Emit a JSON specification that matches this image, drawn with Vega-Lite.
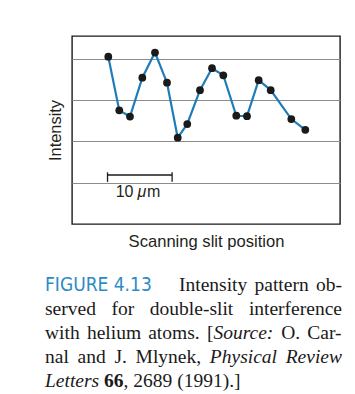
{
  "$schema": "https://vega.github.io/schema/vega-lite/v6.json",
  "width": 268,
  "height": 188,
  "autosize": {"type": "none"},
  "padding": {"left": 72, "top": 36, "right": 15, "bottom": 170},
  "background": "white",
  "config": {"view": {"stroke": "#1a1a1a", "strokeWidth": 1.4}},
  "datasets": {
    "intensity": [
      {"x": 5.62, "y": 4.05},
      {"x": 7.32, "y": 2.75},
      {"x": 8.98, "y": 2.6},
      {"x": 10.89, "y": 3.54},
      {"x": 12.85, "y": 4.15},
      {"x": 14.71, "y": 3.42},
      {"x": 16.37, "y": 2.09},
      {"x": 17.85, "y": 2.42},
      {"x": 19.82, "y": 3.24},
      {"x": 21.68, "y": 3.77},
      {"x": 23.43, "y": 3.6},
      {"x": 25.44, "y": 2.62},
      {"x": 27.1, "y": 2.61},
      {"x": 28.91, "y": 3.48},
      {"x": 30.77, "y": 3.24},
      {"x": 33.96, "y": 2.54},
      {"x": 36.13, "y": 2.28}
    ],
    "scalebar": [
      {"x": 5.5, "x2": 15.5, "y": 1.186, "y2": 1.186},
      {"x": 5.5, "x2": 5.5, "y": 1.02, "y2": 1.25},
      {"x": 15.5, "x2": 15.5, "y": 1.02, "y2": 1.25}
    ],
    "barlabel": [
      {"part": "number", "x": 6.77, "y": 0.665, "t": "10"},
      {"part": "greek", "x": 10.15, "y": 0.665, "t": "μ"},
      {"part": "number", "x": 11.63, "y": 0.665, "t": "m"}
    ],
    "caption": [
      {"part": "label", "x": -4.18, "y": -1.612, "t": "FIGURE 4.13"},
      {"part": "body", "x": 16.57, "y": -1.612, "t": "Intensity"},
      {"part": "body", "x": 28.26, "y": -1.612, "t": "pattern"},
      {"part": "body", "x": 37.78, "y": -1.612, "t": "ob-"},
      {"part": "body", "x": -4.18, "y": -2.195, "t": "served"},
      {"part": "body", "x": 6.12, "y": -2.195, "t": "for"},
      {"part": "body", "x": 12.05, "y": -2.195, "t": "double-slit"},
      {"part": "body", "x": 27.39, "y": -2.195, "t": "interference"},
      {"part": "body", "x": -4.18, "y": -2.778, "t": "with"},
      {"part": "body", "x": 2.31, "y": -2.778, "t": "helium"},
      {"part": "body", "x": 11.8, "y": -2.778, "t": "atoms."},
      {"part": "body", "x": 20.89, "y": -2.778, "t": "["},
      {"part": "emph", "x": 21.9, "y": -2.778, "t": "Source:"},
      {"part": "body", "x": 32.39, "y": -2.778, "t": "O."},
      {"part": "body", "x": 36.44, "y": -2.778, "t": "Car-"},
      {"part": "body", "x": -4.18, "y": -3.362, "t": "nal"},
      {"part": "body", "x": 0.85, "y": -3.362, "t": "and"},
      {"part": "body", "x": 6.57, "y": -3.362, "t": "J."},
      {"part": "body", "x": 9.85, "y": -3.362, "t": "Mlynek,"},
      {"part": "emph", "x": 21.34, "y": -3.362, "t": "Physical"},
      {"part": "emph", "x": 33.09, "y": -3.362, "t": "Review"},
      {"part": "emph", "x": -4.18, "y": -3.945, "t": "Letters"},
      {"part": "volume", "x": 4.97, "y": -3.945, "t": "66"},
      {"part": "body", "x": 7.99, "y": -3.945, "t": ", 2689 (1991).]"}
    ]
  },
  "encoding": {
    "x": {
      "field": "x",
      "type": "quantitative",
      "scale": {"domain": [0, 41.5], "nice": false, "zero": false},
      "axis": {
        "title": "Scanning slit position",
        "labels": false,
        "ticks": false,
        "domain": false,
        "grid": false,
        "titleFont": "Liberation Sans",
        "titleFontSize": 16.6,
        "titleFontWeight": "normal",
        "titleColor": "#231f20",
        "titlePadding": 9
      }
    },
    "y": {
      "field": "y",
      "type": "quantitative",
      "scale": {"domain": [0, 4.55], "nice": false, "zero": false},
      "axis": {
        "title": "Intensity",
        "labels": false,
        "ticks": false,
        "domain": false,
        "grid": true,
        "values": [1, 2, 3, 4],
        "gridColor": "#8c8c8c",
        "gridWidth": 1.2,
        "titleFont": "Liberation Sans",
        "titleFontSize": 16.4,
        "titleFontWeight": "normal",
        "titleColor": "#231f20",
        "titlePadding": 9
      }
    }
  },
  "layer": [
    {
      "data": {"name": "intensity"},
      "mark": {"type": "line", "color": "#1f7cb8", "strokeWidth": 2.2}
    },
    {
      "data": {"name": "intensity"},
      "mark": {"type": "circle", "color": "#1a1a1a", "opacity": 1, "size": 60}
    },
    {
      "data": {"name": "scalebar"},
      "mark": {"type": "rule", "color": "#1a1a1a", "strokeWidth": 1.3},
      "encoding": {
        "x2": {"field": "x2"},
        "y2": {"field": "y2"}
      }
    },
    {
      "data": {"name": "barlabel"},
      "transform": [{"filter": "datum.part === 'number'"}],
      "mark": {"type": "text", "align": "left", "baseline": "alphabetic", "font": "Liberation Sans", "fontSize": 16, "color": "#231f20"},
      "encoding": {"text": {"field": "t"}}
    },
    {
      "data": {"name": "barlabel"},
      "transform": [{"filter": "datum.part === 'greek'"}],
      "mark": {"type": "text", "align": "left", "baseline": "alphabetic", "font": "Liberation Sans", "fontStyle": "italic", "fontSize": 16, "color": "#231f20"},
      "encoding": {"text": {"field": "t"}}
    },
    {
      "data": {"name": "caption"},
      "transform": [{"filter": "datum.part === 'label'"}],
      "mark": {"type": "text", "align": "left", "baseline": "alphabetic", "font": "DejaVu Sans Condensed", "fontSize": 19, "color": "#2b8bc6"},
      "encoding": {"text": {"field": "t"}}
    },
    {
      "data": {"name": "caption"},
      "transform": [{"filter": "datum.part === 'body'"}],
      "mark": {"type": "text", "align": "left", "baseline": "alphabetic", "font": "Liberation Serif", "fontSize": 19.5, "color": "#1a1a1a"},
      "encoding": {"text": {"field": "t"}}
    },
    {
      "data": {"name": "caption"},
      "transform": [{"filter": "datum.part === 'emph'"}],
      "mark": {"type": "text", "align": "left", "baseline": "alphabetic", "font": "Liberation Serif", "fontStyle": "italic", "fontSize": 19.5, "color": "#1a1a1a"},
      "encoding": {"text": {"field": "t"}}
    },
    {
      "data": {"name": "caption"},
      "transform": [{"filter": "datum.part === 'volume'"}],
      "mark": {"type": "text", "align": "left", "baseline": "alphabetic", "font": "Liberation Serif", "fontWeight": "bold", "fontSize": 19.5, "color": "#1a1a1a"},
      "encoding": {"text": {"field": "t"}}
    }
  ]
}
